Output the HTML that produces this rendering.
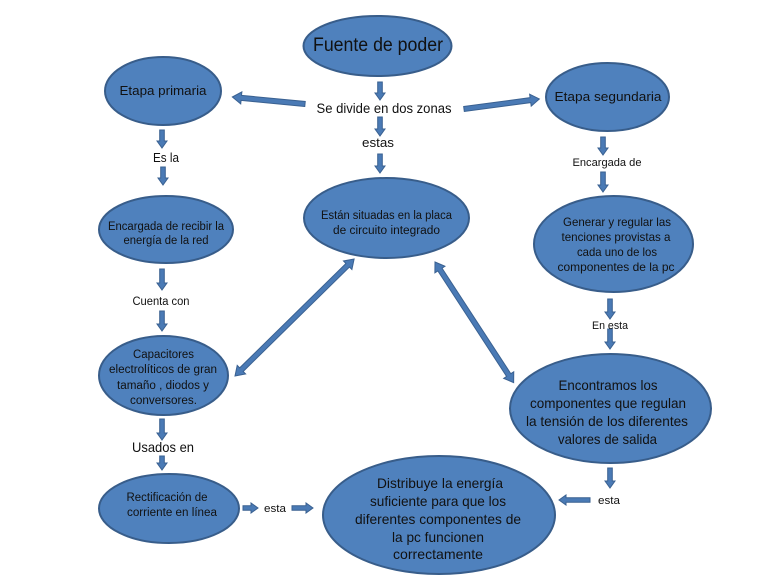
<!DOCTYPE html>
<html>
<head>
<meta charset="utf-8">
<style>
html,body{margin:0;padding:0;background:#fff;}
svg{display:block;}
text{font-family:"Liberation Sans",Arial,sans-serif;fill:#111;text-anchor:middle;}
</style>
</head>
<body>
<svg width="768" height="576" viewBox="0 0 768 576" xmlns="http://www.w3.org/2000/svg">
<g fill="#4f81bd" stroke="#385d8a" stroke-width="2">
  <ellipse cx="377.5" cy="46" rx="74" ry="30"/>
  <ellipse cx="163" cy="91" rx="58" ry="34"/>
  <ellipse cx="607.5" cy="97" rx="61.5" ry="34"/>
  <ellipse cx="166" cy="229.5" rx="67" ry="33.5"/>
  <ellipse cx="163.5" cy="375.5" rx="64.5" ry="39.5"/>
  <ellipse cx="169" cy="508.5" rx="70" ry="34.5"/>
  <ellipse cx="439" cy="515" rx="116" ry="59"/>
  <ellipse cx="610.5" cy="408.5" rx="100.5" ry="54.5"/>
  <ellipse cx="613.5" cy="244" rx="79.5" ry="48"/>
  <ellipse cx="386.5" cy="218" rx="82.5" ry="40"/>
</g>

<g fill="#4a7ab5" stroke="#3a6191" stroke-width="1" stroke-linejoin="miter">
  <!-- vertical small arrows -->
  <polygon transform="translate(380,82) rotate(90)" points="0,-2.3 11,-2.3 11,-5 18,0 11,5 11,2.3 0,2.3"/>
  <polygon transform="translate(380,117) rotate(90)" points="0,-2.3 12,-2.3 12,-5 19,0 12,5 12,2.3 0,2.3"/>
  <polygon transform="translate(380,154) rotate(90)" points="0,-2.3 12,-2.3 12,-5 19,0 12,5 12,2.3 0,2.3"/>
  <polygon transform="translate(162,130) rotate(90)" points="0,-2.3 11,-2.3 11,-5 18,0 11,5 11,2.3 0,2.3"/>
  <polygon transform="translate(163,167) rotate(90)" points="0,-2.3 11,-2.3 11,-5 18,0 11,5 11,2.3 0,2.3"/>
  <polygon transform="translate(162,269) rotate(90)" points="0,-2.3 14,-2.3 14,-5 21,0 14,5 14,2.3 0,2.3"/>
  <polygon transform="translate(162,311) rotate(90)" points="0,-2.3 13,-2.3 13,-5 20,0 13,5 13,2.3 0,2.3"/>
  <polygon transform="translate(162,419) rotate(90)" points="0,-2.3 14,-2.3 14,-5 21,0 14,5 14,2.3 0,2.3"/>
  <polygon transform="translate(162,456) rotate(90)" points="0,-2.3 7,-2.3 7,-5 14,0 7,5 7,2.3 0,2.3"/>
  <polygon transform="translate(603,137) rotate(90)" points="0,-2.3 11,-2.3 11,-5 18,0 11,5 11,2.3 0,2.3"/>
  <polygon transform="translate(603,172) rotate(90)" points="0,-2.3 13,-2.3 13,-5 20,0 13,5 13,2.3 0,2.3"/>
  <polygon transform="translate(610,299) rotate(90)" points="0,-2.3 13,-2.3 13,-5 20,0 13,5 13,2.3 0,2.3"/>
  <polygon transform="translate(610,329) rotate(90)" points="0,-2.3 13,-2.3 13,-5 20,0 13,5 13,2.3 0,2.3"/>
  <polygon transform="translate(610,468) rotate(90)" points="0,-2.3 13,-2.3 13,-5 20,0 13,5 13,2.3 0,2.3"/>
  <!-- horizontal -->
  <polygon transform="translate(243,508)" points="0,-2.3 8,-2.3 8,-5 15,0 8,5 8,2.3 0,2.3"/>
  <polygon transform="translate(292,508)" points="0,-2.3 14,-2.3 14,-5 21,0 14,5 14,2.3 0,2.3"/>
  <polygon transform="translate(590,500) rotate(180)" points="0,-2.3 24,-2.3 24,-5 31,0 24,5 24,2.3 0,2.3"/>
  <!-- diagonals -->
  <polygon transform="translate(305,104) rotate(185.5)" points="0,-2.5 64,-2.5 64,-6 73,0 64,6 64,2.5 0,2.5"/>
  <polygon transform="translate(464,109) rotate(-7.6)" points="0,-2.5 67,-2.5 67,-6 76,0 67,6 67,2.5 0,2.5"/>
  <polygon transform="translate(235,376) rotate(-44.5)" points="0,0 9,-6 9,-2.5 158,-2.5 158,-6 167,0 158,6 158,2.5 9,2.5 9,6"/>
  <polygon transform="translate(435,262) rotate(56.9)" points="0,0 9,-6 9,-2.5 135,-2.5 135,-6 144,0 135,6 135,2.5 9,2.5 9,6"/>
</g>

<g lengthAdjust="spacingAndGlyphs">
  <text x="378" y="51" font-size="19" textLength="130" lengthAdjust="spacingAndGlyphs">Fuente de poder</text>
  <text x="163" y="95" font-size="13" textLength="87" lengthAdjust="spacingAndGlyphs">Etapa primaria</text>
  <text x="608" y="101" font-size="13" textLength="107" lengthAdjust="spacingAndGlyphs">Etapa  segundaria</text>
  <text x="384" y="113" font-size="13.5" textLength="135" lengthAdjust="spacingAndGlyphs">Se divide en dos zonas</text>
  <text x="378" y="147" font-size="13" textLength="32" lengthAdjust="spacingAndGlyphs">estas</text>
  <text x="166" y="162" font-size="13" textLength="26" lengthAdjust="spacingAndGlyphs">Es la</text>

  <text x="166" y="230" font-size="11.5" textLength="116" lengthAdjust="spacingAndGlyphs">Encargada de recibir la</text>
  <text x="166" y="244" font-size="11.5" textLength="85" lengthAdjust="spacingAndGlyphs">energía de la red</text>
  <text x="161" y="305" font-size="11.5" textLength="57" lengthAdjust="spacingAndGlyphs">Cuenta con</text>

  <text x="163.5" y="358" font-size="11.5" textLength="61" lengthAdjust="spacingAndGlyphs">Capacitores</text>
  <text x="163" y="373" font-size="11.5" textLength="108" lengthAdjust="spacingAndGlyphs">electrolíticos de gran</text>
  <text x="163" y="389" font-size="11.5" textLength="92" lengthAdjust="spacingAndGlyphs">tamaño , diodos y</text>
  <text x="163.5" y="404" font-size="11.5" textLength="67" lengthAdjust="spacingAndGlyphs">conversores.</text>

  <text x="163" y="452" font-size="14" textLength="62" lengthAdjust="spacingAndGlyphs">Usados en</text>
  <text x="167" y="501" font-size="11.5" textLength="81" lengthAdjust="spacingAndGlyphs">Rectificación de</text>
  <text x="172" y="516" font-size="11.5" textLength="90" lengthAdjust="spacingAndGlyphs">corriente en línea</text>
  <text x="275" y="512" font-size="11" textLength="22" lengthAdjust="spacingAndGlyphs">esta</text>

  <text x="440" y="488" font-size="14" textLength="126" lengthAdjust="spacingAndGlyphs">Distribuye la energía</text>
  <text x="438" y="506" font-size="14" textLength="136" lengthAdjust="spacingAndGlyphs">suficiente para que los</text>
  <text x="438" y="524" font-size="14" textLength="166" lengthAdjust="spacingAndGlyphs">diferentes componentes de</text>
  <text x="438" y="542" font-size="14" textLength="92" lengthAdjust="spacingAndGlyphs">la pc funcionen</text>
  <text x="438" y="559" font-size="14" textLength="90" lengthAdjust="spacingAndGlyphs">correctamente</text>

  <text x="608" y="390" font-size="14" textLength="99" lengthAdjust="spacingAndGlyphs">Encontramos los</text>
  <text x="608" y="408" font-size="14" textLength="156" lengthAdjust="spacingAndGlyphs">componentes que regulan</text>
  <text x="607" y="426" font-size="14" textLength="162" lengthAdjust="spacingAndGlyphs">la tensión de los diferentes</text>
  <text x="607.5" y="444" font-size="14" textLength="99" lengthAdjust="spacingAndGlyphs">valores de salida</text>

  <text x="610" y="329" font-size="11" textLength="36" lengthAdjust="spacingAndGlyphs">En esta</text>
  <text x="609" y="504" font-size="11" textLength="22" lengthAdjust="spacingAndGlyphs">esta</text>
  <text x="607" y="166" font-size="11" textLength="69" lengthAdjust="spacingAndGlyphs">Encargada de</text>

  <text x="617" y="226" font-size="12" textLength="108" lengthAdjust="spacingAndGlyphs">Generar y regular las</text>
  <text x="616" y="241" font-size="12" textLength="109" lengthAdjust="spacingAndGlyphs">tenciones provistas a</text>
  <text x="617" y="256" font-size="12" textLength="80" lengthAdjust="spacingAndGlyphs">cada uno de los</text>
  <text x="616" y="271" font-size="12" textLength="117" lengthAdjust="spacingAndGlyphs">componentes  de la pc</text>

  <text x="386.5" y="219" font-size="11.5" textLength="131" lengthAdjust="spacingAndGlyphs">Están situadas en la placa</text>
  <text x="386.5" y="234" font-size="11.5" textLength="107" lengthAdjust="spacingAndGlyphs">de circuito integrado</text>
</g>
</svg>
</body>
</html>
